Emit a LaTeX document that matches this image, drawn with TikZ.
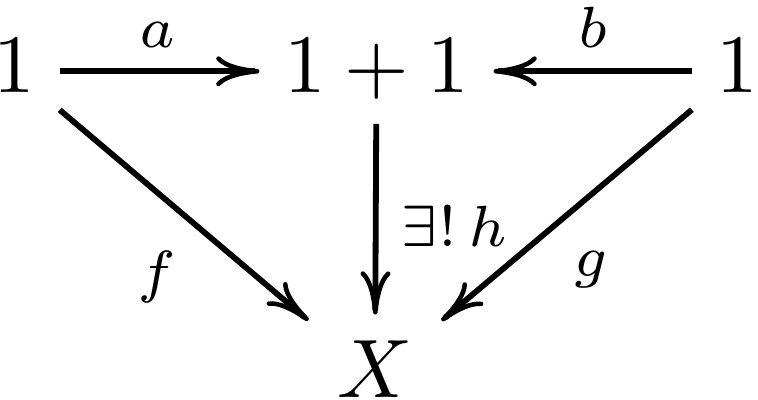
\documentclass[tikz,border=0pt]{standalone}
\usetikzlibrary{arrows.meta}
\begin{document}
\begin{tikzpicture}[x=0.1205pt,y=-0.1205pt,
  obj/.style={text height=0.7em,text depth=0.2em,inner xsep=2.8pt,inner ysep=2.8pt,anchor=base},
  lbl/.style={inner sep=0pt,anchor=base},
  arr/.style={line width=0.7pt,-{Computer Modern Rightarrow[length=5.2pt,width=3.6pt,line width=0.55pt]}}]
\useasboundingbox (0,0) rectangle (758,400);
\node[obj] (L) at (14,92) {$1$};
\node[obj] (M) at (376.5,92) {$1+1$};
\node[obj] (R) at (737.5,92) {$1$};
\node[obj,inner xsep=3.3pt] (X) at (375,397.5) {$X$};
\draw[arr] (L) -- (M);
\draw[arr] (R) -- (M);
\draw[arr,shorten <=-1.15pt] (M) -- (X);
\draw[arr] (L) -- (X);
\draw[arr] (R) -- (X);
\node[lbl] (la) at (158,47) {$\scriptstyle a$};
\node[lbl] (lb) at (593.5,47) {$\scriptstyle b$};
\node[lbl] (lf) at (157,291) {$\scriptstyle f$};
\node[lbl] (lg) at (591,276) {$\scriptstyle g$};
\node[lbl] (lh) at (454,246) {$\scriptstyle \exists!\,h$};
\end{tikzpicture}
\end{document}
